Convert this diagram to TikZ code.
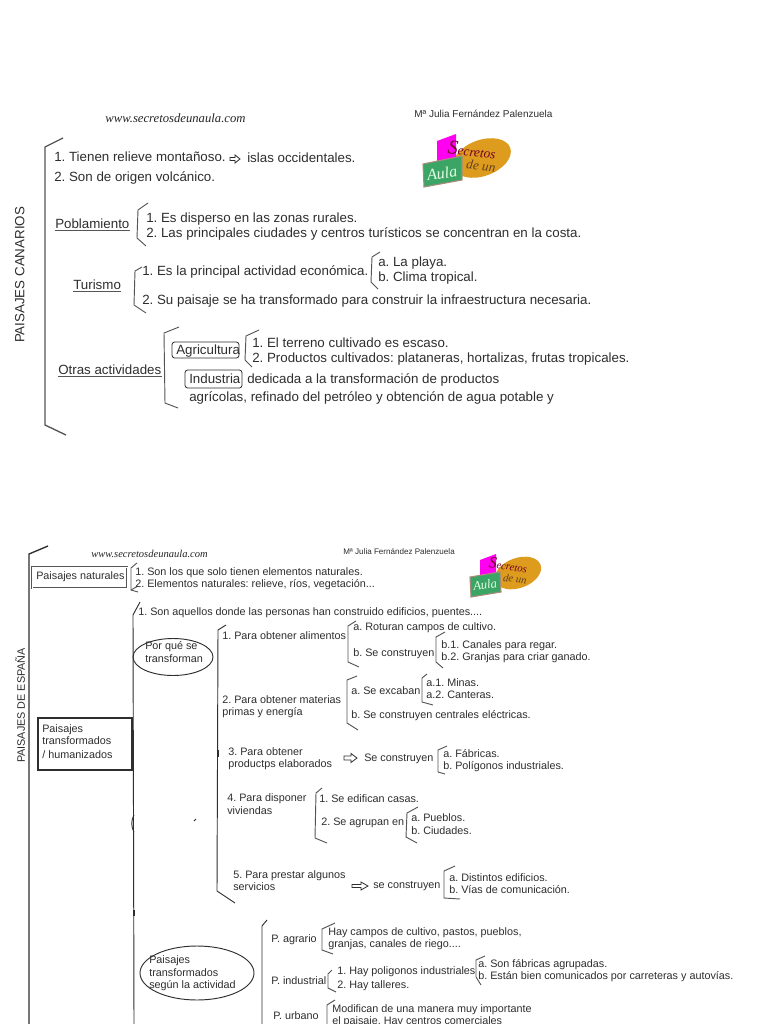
\documentclass[tikz,border=0pt]{standalone}
\usepackage{fontspec}
\setmainfont{Liberation Sans}
\newfontfamily\cursivefont{Liberation Serif}
\frenchspacing
\definecolor{ink}{HTML}{2E2E2E}
\definecolor{rule}{HTML}{555555}
\definecolor{ochre}{HTML}{DE9C1E}
\definecolor{board}{HTML}{3BA565}
\definecolor{boardedge}{HTML}{A98B7C}
\definecolor{logomag}{HTML}{FF00F0}
\tikzset{
 big/.style={inner sep=0,anchor=west,yshift=-1pt,text=ink,text height=7pt,text depth=2pt,font=\fontsize{10}{12}\selectfont},
 small/.style={inner sep=0,anchor=west,yshift=-0.8pt,text=ink,text height=6pt,text depth=1.8pt,font=\fontsize{8.1}{10}\selectfont},
 web/.style={inner sep=0,anchor=center,text=black!85,font=\cursivefont\itshape},
 brk/.style={draw=rule,line width=0.7pt,line join=miter},
 brkbig/.style={draw=rule,line width=1pt},
 openarrow/.style={draw=ink,line width=0.6pt,fill=white},
}
\begin{document}
\begin{tikzpicture}[x=0.75pt,y=-0.75pt]
\useasboundingbox (0,0) rectangle (768,1024);
\fill[white] (0,0) rectangle (768,1024);
\clip (0,0) rectangle (768,1024);

% ---------- top sheet ----------
\node[web,font=\cursivefont\itshape\fontsize{9.5}{10}\selectfont] (webA) at (175.5,118) {www.secretosdeunaula.com};
\node[small,font=\fontsize{7.5}{10}\selectfont] (authA) at (414,114) {Mª Julia Fernández Palenzuela};
% logo
\fill[ochre,rotate around={20:(482,158)}] (482,158) ellipse [x radius=30,y radius=18];
\fill[logomag] (437,141) -- (456,134) -- (456,158) -- (437,161) -- cycle;
\draw[draw=boardedge,line width=0.8pt,fill=board] (423,164) -- (462,156) -- (462,180) -- (424,187) -- cycle;
\node[web,text=purple!60!black,rotate=-7] (logoA1) at (472,150) {\fontsize{15}{15}\selectfont S\fontsize{10}{10}\selectfont ecretos};
\node[web,font=\cursivefont\itshape\fontsize{10}{10}\selectfont,text=brown!50!black,rotate=-7] (logoA2) at (481,166) {de un};
\node[web,font=\cursivefont\itshape\fontsize{12}{12}\selectfont,text=green!10,rotate=8] (logoA3) at (442,173) {Aula};

\node[big,rotate=90,anchor=center,xshift=-1.2pt] (tA) at (21,272) {PAISAJES CANARIOS};
\draw[brkbig] (63,138) -- (45,147) -- (45,425) -- (66,435);
\node[big] (a1) at (54,157) {1. Tienen relieve montañoso.};
\draw[openarrow] (230,157.5) -- (235,157.5) -- (235,155) -- (240,159) -- (235,163) -- (235,160.5) -- (230,160.5) -- cycle;
\node[big] (a2) at (247,158) {islas occidentales.};
\node[big] (a3) at (54,177) {2. Son de origen volcánico.};
\node[big] (pob) at (55,224) {Poblamiento};
\draw[rule,line width=0.6pt] (pob.west |- 0,230.5) -- (pob.east |- 0,230.5);
\draw[brk] (148,203) -- (138,210) -- (137,238) -- (146,246);
\node[big] (p1) at (146,218) {1. Es disperso en las zonas rurales.};
\node[big] (p2) at (146,233) {2. Las principales ciudades y centros turísticos se concentran en la costa.};
\node[big] (tur) at (73,285) {Turismo};
\draw[rule,line width=0.6pt] (tur.west |- 0,291) -- (tur.east |- 0,291);
\draw[brk] (142,267) -- (135,271) -- (134,305) -- (146,313);
\node[big] (t1) at (142,271) {1. Es la principal actividad económica.};
\draw[brk] (380,252) -- (372,257) -- (371,282) -- (378,289);
\node[big] (ta) at (378,262) {a. La playa.};
\node[big] (tb) at (378,277) {b. Clima tropical.};
\node[big] (t2) at (142,300) {2. Su paisaje se ha transformado para construir la infraestructura necesaria.};
\node[big] (otr) at (58,370) {Otras actividades};
\draw[rule,line width=0.6pt] (otr.west |- 0,376.5) -- (otr.east |- 0,376.5);
\draw[brk] (179,327) -- (164,333) -- (165,403) -- (178,408);
\draw[ink,line width=0.6pt,rounded corners=2pt] (172,342) rectangle (239,358);
\node[big] (agr) at (176,350) {Agricultura};
\draw[brk] (259,330) -- (246,336) -- (245,360) -- (252,367);
\node[big] (g1) at (252,343) {1. El terreno cultivado es escaso.};
\node[big] (g2) at (252,358) {2. Productos cultivados: plataneras, hortalizas, frutas tropicales.};
\draw[ink,line width=0.6pt,rounded corners=2pt] (185,370) rectangle (242,388);
\node[big] (ind) at (189,379) {Industria};
\node[big] (i1) at (247,379) {dedicada a la transformación de productos};
\node[big] (i2) at (189,397) {agrícolas, refinado del petróleo y obtención de agua potable y};

% ---------- bottom sheet ----------
\node[web,font=\cursivefont\itshape\fontsize{7.9}{10}\selectfont] (webB) at (149.5,554) {www.secretosdeunaula.com};
\node[small,font=\fontsize{6.05}{10}\selectfont] (authB) at (343,551) {Mª Julia Fernández Palenzuela};
% logo
\fill[ochre,rotate around={20:(518,573)}] (518,573) ellipse [x radius=24,y radius=15];
\fill[logomag] (480,560) -- (496,554) -- (496,573) -- (480,575) -- cycle;
\draw[draw=boardedge,line width=0.8pt,fill=board] (470,577) -- (500,572) -- (501,592) -- (471,597) -- cycle;
\node[web,text=purple!60!black,rotate=-7] (logoB1) at (508,565) {\fontsize{12}{12}\selectfont S\fontsize{8}{10}\selectfont ecretos};
\node[web,font=\cursivefont\itshape\fontsize{8}{10}\selectfont,text=brown!50!black,rotate=-7] (logoB2) at (515,579) {de un};
\node[web,font=\cursivefont\itshape\fontsize{9.5}{10}\selectfont,text=green!10,rotate=8] (logoB3) at (485,585) {Aula};

\node[small,rotate=90,anchor=center,xshift=-1.1pt] (tB) at (22,703) {PAISAJES DE ESPAÑA};
\draw[brkbig,draw=ink] (48,546) -- (29,554) -- (29,1024);
\draw[rule,line width=0.7pt,double,double distance=0.5pt] (32,567) rectangle (127,588);
\node[small] (nat) at (36,576) {Paisajes naturales};
\draw[brk] (137,563) -- (131,568) -- (131,590) -- (138,592);
\draw[brk] (131,590) -- (138,586);
\node[small] (n1) at (135,572) {1. Son los que solo tienen elementos naturales.};
\node[small] (n2) at (135,584) {2. Elementos naturales: relieve, ríos, vegetación...};

\draw[brk,draw=ink] (140,602) -- (133,615) -- (134,1024);
\draw[ink,line width=0.7pt] (134,815) .. controls (131,820) and (131,827) .. (134,832);
\draw[ink,line width=1.1pt] (134,910) -- (134,916);
\draw[ink,line width=0.7pt] (194,821) -- (196,819);
\node[small] (h1) at (138,612) {1. Son aquellos donde las personas han construido edificios, puentes....};
\draw[ink,line width=0.7pt] (173,657) ellipse [x radius=40,y radius=18.5];
\node[small] (por1) at (145,646) {Por qué se};
\node[small] (por2) at (145,659) {transforman};
\draw[ink,line width=0.9pt] (38,718) rectangle (132,770);
\node[small] (hum1) at (42,729) {Paisajes};
\node[small] (hum2) at (42,741) {transformados};
\node[small] (hum3) at (42,755) {/ humanizados};

\draw[brk,draw=ink] (226,625) -- (218,630) -- (217,891) -- (235,903);
\draw[ink,line width=1.2pt] (218,750) -- (218,757);
\node[small] (r1) at (222,636) {1. Para obtener alimentos};
\draw[brk] (356,621) -- (348,626) -- (348,662) -- (359,667);
\node[small] (r1a) at (353,627) {a. Roturan campos de cultivo.};
\node[small] (r1b) at (353,653) {b. Se construyen};
\draw[brk] (445,632) -- (436,637) -- (436,662) -- (443,668);
\node[small] (r1b1) at (441,645) {b.1. Canales para regar.};
\node[small] (r1b2) at (441,657) {b.2. Granjas para criar ganado.};
\node[small] (r2x) at (222,700) {2. Para obtener materias};
\node[small] (r2y) at (222,712) {primas y energía};
\draw[brk] (357,676) -- (347,680) -- (347,723) -- (358,730);
\node[small] (r2a) at (351,691) {a. Se excaban};
\draw[brk] (427,674) -- (422,678) -- (422,702) -- (433,705);
\node[small] (r2a1) at (426,683) {a.1. Minas.};
\node[small] (r2a2) at (426,695) {a.2. Canteras.};
\node[small] (r2b) at (351,715) {b. Se construyen centrales eléctricas.};
\node[small] (r3x) at (228,752) {3. Para obtener};
\node[small] (r3y) at (228,764) {productps elaborados};
\draw[openarrow] (344,756) -- (351,756) -- (351,753.5) -- (357,758) -- (351,762.5) -- (351,760) -- (344,760) -- cycle;
\node[small] (r3z) at (364,758) {Se construyen};
\draw[brk] (447,746) -- (438,750) -- (438,772) -- (445,774);
\node[small] (r3a) at (443,754) {a. Fábricas.};
\node[small] (r3b) at (443,766) {b. Polígonos industriales.};
\node[small] (r4x) at (227,798) {4. Para disponer};
\node[small] (r4y) at (227,811) {viviendas};
\draw[brk] (322,788) -- (316,793) -- (315,838) -- (327,843);
\node[small] (r41) at (319,799) {1. Se edifican casas.};
\node[small] (r42) at (321,822) {2. Se agrupan en};
\draw[brk] (418,807) -- (407,813) -- (406,837) -- (417,843);
\node[small] (r4a) at (411,818) {a. Pueblos.};
\node[small] (r4b) at (411,831) {b. Ciudades.};
\node[small] (r5x) at (233,875) {5. Para prestar algunos};
\node[small] (r5y) at (233,887) {servicios};
\draw[openarrow] (352,884.5) -- (361,884.5) -- (361,882) -- (368,886) -- (361,890) -- (361,887.5) -- (352,887.5) -- cycle;
\node[small] (r5z) at (373,885) {se construyen};
\draw[brk] (455,866) -- (444,871) -- (444,898) -- (460,899);
\node[small] (r5a) at (449,878) {a. Distintos edificios.};
\node[small] (r5b) at (449,890) {b. Vías de comunicación.};

\draw[brk,draw=ink] (267,920) -- (262,926) -- (262,1024);
\draw[ink,line width=0.7pt] (197,973) ellipse [x radius=57,y radius=27];
\node[small] (act1) at (149,960) {Paisajes};
\node[small] (act2) at (149,973) {transformados};
\node[small] (act3) at (149,985) {según la actividad};
\node[small] (pa) at (271,939) {P. agrario};
\draw[brk] (335,923) -- (322,929) -- (322,950) -- (333,954);
\node[small] (pa1) at (328,932) {Hay campos de cultivo, pastos, pueblos,};
\node[small] (pa2) at (328,944) {granjas, canales de riego....};
\node[small] (pi) at (271,981) {P. industrial};
\draw[brk] (332,970) -- (328,974) -- (328,988) -- (336,992);
\node[small] (pi1) at (337,971) {1. Hay poligonos industriales};
\node[small] (pi2) at (337,985) {2. Hay talleres.};
\draw[brk] (485,956) -- (476,960) -- (476,977) -- (481,985);
\node[small] (pia) at (478,964) {a. Son fábricas agrupadas.};
\node[small] (pib) at (478,976) {b. Están bien comunicados por carreteras y autovías.};
\node[small] (pu) at (273,1016) {P. urbano};
\draw[brk] (335,1000) -- (327,1005) -- (327,1024);
\node[small] (pu1) at (332,1009) {Modifican de una manera muy importante};
\node[small] (pu2) at (332,1021) {el paisaje. Hay centros comerciales};
\end{tikzpicture}
\end{document}
